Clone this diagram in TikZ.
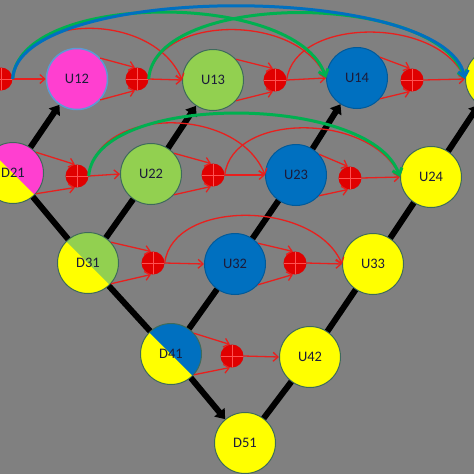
\documentclass[tikz,border=0pt]{standalone}
\usepackage{fontspec}
\setmainfont{Carlito}
\usetikzlibrary{arrows.meta}
\definecolor{bg}{HTML}{808080}
\definecolor{mag}{HTML}{FF3FD0}
\definecolor{lgr}{HTML}{92D050}
\definecolor{blu}{HTML}{0070C0}
\definecolor{yel}{HTML}{FFFF00}
\definecolor{outl}{HTML}{3E6A5C}
\definecolor{outlb}{HTML}{5B9BD5}
\definecolor{dotred}{HTML}{E00000}
\definecolor{crossred}{HTML}{FF5050}
\definecolor{arrred}{HTML}{E8201E}
\definecolor{garc}{HTML}{00B050}
\definecolor{txt}{HTML}{1C1C3A}
\tikzset{
  big/.style={circle, minimum size=61pt, inner sep=0pt, draw=outl, line width=1pt,
    font=\fontsize{14.5}{16}\selectfont, text=txt},
  split/.style 2 args={big, fill=#2, path picture={
    \fill[#1] (path picture bounding box.north west) -- (path picture bounding box.north east)
      -- (path picture bounding box.south east) -- cycle;}},
  sumdot/.style={circle, minimum size=23pt, inner sep=0pt, fill=dotred, path picture={
    \draw[crossred, line width=0.5pt] (path picture bounding box.north) -- (path picture bounding box.south)
      (path picture bounding box.west) -- (path picture bounding box.east);}},
  spine/.style={line width=6pt, black},
  spinearr/.style={spine, -{Triangle[length=9pt,width=13pt]}},
  redarr/.style={draw=arrred, line width=1.3pt, -{Straight Barb[length=5pt,width=9pt]}},
  greenarc/.style={draw=garc, line width=3pt, -{Straight Barb[length=6pt,width=10pt]}},
  bluearc/.style={draw=blu, line width=3pt, -{Straight Barb[length=6pt,width=10pt]}},
}
\begin{document}
\begin{tikzpicture}[x=1pt,y=-1pt]
\useasboundingbox (0,0) rectangle (474,474);
\fill[bg] (0,0) rectangle (474,474);
\clip (0,0) rectangle (474,474);

% nodes
\node[sumdot] (d0) at (1,79) {};
\node[big, fill=mag, draw=outlb, line width=1.5pt] (U12) at (77,79) {U12};
\node[sumdot] (d1) at (137,79) {};
\node[big, fill=lgr] (U13) at (213,80) {U13};
\node[sumdot] (d2) at (275,80) {};
\node[big, fill=blu, draw=blu!80!black] (U14) at (357,78) {U14};
\node[sumdot] (d3) at (412,80) {};
\node[big, fill=yel] (U15) at (496,79) {};

\node[split={mag}{yel}] (D21) at (13,173) {D21};
\node[sumdot] (d4) at (77,176) {};
\node[big, fill=lgr] (U22) at (151,174) {U22};
\node[sumdot] (d5) at (213,175) {};
\node[big, fill=blu, draw=blu!80!black] (U23) at (296,175) {U23};
\node[sumdot] (d6) at (350,178) {};
\node[big, fill=yel] (U24) at (431,177) {U24};

\node[split={lgr}{yel}] (D31) at (88,263) {D31};
\node[sumdot] (d7) at (153,263) {};
\node[big, fill=blu, draw=blu!80!black] (U32) at (235,264) {U32};
\node[sumdot] (d8) at (295,263) {};
\node[big, fill=yel] (U33) at (373,264) {U33};

\node[split={blu}{yel}] (D41) at (171,354) {D41};
\node[sumdot] (d9) at (232,356) {};
\node[big, fill=yel] (U42) at (310,357) {U42};

\node[big, fill=yel] (D51) at (245,443) {D51};

% black lattice
\draw[spinearr] (D21) -- (U12);
\draw[spine] (D21) -- (D31);
\draw[spine] (D31) -- (U22);
\draw[spinearr] (U22) -- (U13);
\draw[spine] (D31) -- (D41);
\draw[spine] (D41) -- (U32);
\draw[spine] (U32) -- (U23);
\draw[spinearr] (U23) -- (U14);
\draw[spinearr] (D41) -- (D51);
\draw[spine] (D51) -- (U42);
\draw[spine] (U42) -- (U33);
\draw[spine] (U33) -- (U24);
\draw[spinearr] (U24) -- (U15);

% node to sum dot
\foreach \n/\d in {U12/d1, U13/d2, U14/d3, D21/d4, U22/d5, U23/d6, D31/d7, U32/d8, D41/d9}{
  \draw[redarr] (\n.42) -- (\d.100);
  \draw[redarr] (\n.-42) -- (\d.-100);
}
% sum dot to next node
\draw[redarr] (d0.east) -- (U12.west);
\draw[redarr] (d1.east) -- (U13.west);
\draw[redarr] (d2.east) -- (U14.west);
\draw[redarr] (d3.east) -- (U15.west);
\draw[redarr] (d4.east) -- (U22.west);
\draw[redarr] (d5.east) -- (U23.west);
\draw[redarr] (d6.east) -- (U24.west);
\draw[redarr] (d7.east) -- (U32.west);
\draw[redarr] (d8.east) -- (U33.west);
\draw[redarr] (d9.east) -- (U42.west);

% skip arcs row 1
\draw[redarr] (d0.east) .. controls +(8,-68) and +(-28,-68) .. (U13.west);
\draw[redarr] (d1.east) .. controls +(8,-65) and +(-28,-65) .. (U14.west);
\draw[redarr] (d2.east) .. controls +(8,-63) and +(-28,-63) .. (U15.west);
\draw[greenarc] (d0.east) .. controls +(6,-88) and +(-30,-88) .. (U14.west);
\draw[greenarc] (d1.east) .. controls +(6,-88) and +(-30,-88) .. (U15.west);
\draw[bluearc] (d0.east) .. controls +(4,-97) and +(-20,-97) .. (U15.west);
% row 2
\draw[redarr] (d4.east) .. controls +(8,-70) and +(-28,-70) .. (U23.west);
\draw[redarr] (d5.east) .. controls +(8,-64) and +(-28,-64) .. (U24.west);
\draw[greenarc] (d4.east) .. controls +(6,-84) and +(-30,-84) .. (U24.west);
% row 3
\draw[redarr] (d7.east) .. controls +(8,-64) and +(-28,-64) .. (U33.west);
\end{tikzpicture}
\end{document}
